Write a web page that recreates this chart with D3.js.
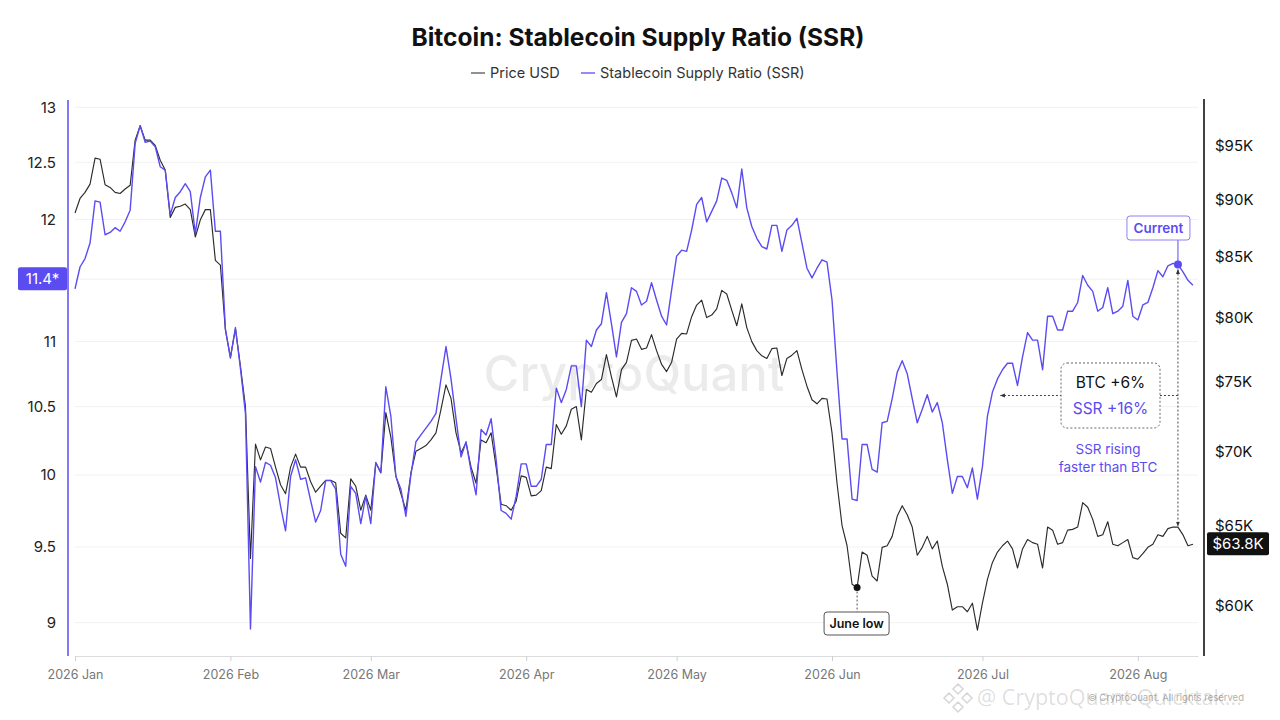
<!DOCTYPE html>
<html>
<head>
<meta charset="utf-8">
<script src="https://cdn.jsdelivr.net/npm/d3@7"></script>
<style>
  body { margin: 0; background: #fff; }
  svg { font-family: Inter, "Noto Sans", sans-serif; }
</style>
</head>
<body>
<svg width="1280" height="720"></svg>
<script>
// daily values, starting 2026-01-01
const startDay = "2026-01-01"

const priceUSD = [
  88.8, 90.1, 90.65, 91.4, 93.8, 93.7, 91.35, 91.1, 90.65, 90.55,
  90.95, 91.3, 95.5, 96.9, 95.5, 95.5, 95.0, 93.6, 92.7, 88.4,
  89.3, 89.4, 89.6, 89.1, 86.7, 88.2, 89.1, 89.1, 84.7, 84.3,
  79.0, 76.9, 79.1, 76.2, 73.2, 62.9, 70.5, 69.4, 70.3, 70.2,
  68.9, 67.7, 67.1, 68.9, 69.8, 68.9, 68.9, 67.9, 67.2, 67.6,
  68.0, 68.0, 67.84, 64.5, 64.2, 68.1, 67.6, 66.0, 67.0, 66.0,
  69.2, 68.5, 72.75, 71.0, 68.3, 67.1, 66.0, 68.5, 70.0, 70.2,
  70.4, 70.8, 71.3, 73.0, 74.8, 73.8, 71.3, 69.9, 70.6, 68.9,
  67.8, 70.8, 70.6, 71.3, 68.9, 66.4, 66.3, 66.0, 66.6, 68.3,
  68.2, 66.95, 67.0, 67.3, 68.9, 68.8, 71.9, 71.2, 71.8, 73.0,
  73.2, 70.8, 74.45, 74.25, 74.9, 75.2, 77.1, 75.4, 73.9, 75.95,
  76.5, 78.2, 78.3, 77.5, 77.6, 78.65, 77.4, 76.35, 75.8, 76.5,
  78.3, 78.75, 78.7, 80.07, 81.0, 81.4, 80.0, 80.2, 80.7, 82.2,
  81.9, 80.6, 79.35, 81.1, 79.2, 78.1, 77.4, 77.0, 76.8, 77.55,
  77.6, 75.5, 76.8, 77.05, 77.4, 75.95, 74.7, 73.7, 73.4, 73.8,
  73.75, 71.3, 67.8, 65.0, 63.7, 61.3, 61.1, 63.3, 63.1, 61.8,
  61.5, 63.6, 63.7, 64.3, 65.6, 66.3, 65.7, 64.9, 63.1, 63.6,
  64.3, 63.5, 64.0, 62.4, 61.3, 59.74, 59.94, 59.94, 59.64, 60.15,
  58.55, 60.15, 61.6, 62.65, 63.3, 63.7, 64.0, 63.5, 62.3, 63.5,
  64.1, 63.9, 63.8, 62.3, 64.9, 64.7, 63.8, 63.9, 64.7, 64.75,
  64.9, 66.5, 66.2, 65.4, 64.3, 64.4, 65.25, 63.8, 63.7, 63.9,
  64.1, 62.95, 62.85, 63.2, 63.6, 63.8, 64.4, 64.3, 64.8, 64.9,
  64.9, 64.4, 63.7, 63.8
]

const ssr = [
  11.42, 11.60, 11.67, 11.80, 12.16, 12.15, 11.87, 11.89, 11.93, 11.90,
  11.98, 12.08, 12.67, 12.83, 12.68, 12.69, 12.64, 12.46, 12.43, 12.04,
  12.19, 12.24, 12.31, 12.24, 11.88, 12.19, 12.37, 12.43, 11.90, 11.90,
  11.10, 10.87, 11.11, 10.79, 10.45, 8.96, 10.06, 9.95, 10.09, 10.07,
  9.98, 9.78, 9.61, 9.99, 10.11, 9.97, 9.98, 9.82, 9.67, 9.75,
  9.96, 9.96, 9.90, 9.45, 9.37, 9.92, 9.87, 9.66, 9.85, 9.66,
  10.09, 10.02, 10.65, 10.43, 9.99, 9.90, 9.71, 10.0, 10.24, 10.29,
  10.34, 10.39, 10.45, 10.71, 10.96, 10.71, 10.41, 10.13, 10.24, 10.03,
  9.86, 10.33, 10.29, 10.41, 10.11, 9.75, 9.73, 9.69, 9.85, 10.08,
  10.08, 9.92, 9.92, 9.97, 10.22, 10.22, 10.64, 10.53, 10.63, 10.81,
  10.81, 10.50, 11.01, 10.96, 11.09, 11.14, 11.39, 11.14, 10.88, 11.15,
  11.22, 11.43, 11.40, 11.29, 11.32, 11.47, 11.33, 11.20, 11.13, 11.41,
  11.69, 11.74, 11.73, 11.91, 12.13, 12.19, 11.98, 12.07, 12.16, 12.36,
  12.34, 12.23, 12.10, 12.44, 12.10, 11.94, 11.84, 11.77, 11.75, 11.95,
  11.95, 11.73, 11.91, 11.95, 12.01, 11.80, 11.59, 11.51, 11.59, 11.66,
  11.64, 11.33, 10.76, 10.26, 10.26, 9.83, 9.82, 10.22, 10.22, 10.04,
  10.02, 10.38, 10.39, 10.56, 10.76, 10.85, 10.75, 10.56, 10.38, 10.48,
  10.59, 10.46, 10.53, 10.38, 10.11, 9.87, 9.99, 9.99, 9.91, 10.05,
  9.83, 10.06, 10.43, 10.61, 10.71, 10.78, 10.83, 10.83, 10.66, 10.88,
  11.07, 11.01, 11.01, 10.78, 11.2, 11.2, 11.09, 11.09, 11.24, 11.24,
  11.31, 11.53, 11.45, 11.40, 11.24, 11.27, 11.43, 11.22, 11.24, 11.28,
  11.49, 11.20, 11.17, 11.29, 11.31, 11.43, 11.57, 11.52, 11.61, 11.63,
  11.62, 11.56, 11.49, 11.45
]

const ssrTicks = [9, 9.5, 10, 10.5, 11, 11.5, 12, 12.5, 13]
const priceTicks = [60, 65, 70, 75, 80, 85, 90, 95]

// annotation indices (days from start)
const juneLowIdx = 156
const currentIdx = 220
const arrowFromIdx = 184

const purple = "#5b4cf2"
const parseDay = d3.timeParse("%Y-%m-%d")
const day0 = parseDay(startDay)
const dates = ssr.map((_, i) => d3.timeDay.offset(day0, i))

const svg = d3.select("svg")

const x = d3.scaleTime()
  .domain([day0, d3.timeDay.offset(day0, 224)])
  .range([75, 1198])

const yS = d3.scaleLog().domain([9, 13]).range([622.7, 107.3])
const yP = d3.scaleLog().domain([60, 95]).range([605.7, 145.4])

// grid
svg.append("g")
  .selectAll("line")
  .data(ssrTicks)
  .enter().append("line")
  .attr("x1", 75).attr("x2", 1198)
  .attr("y1", d => yS(d)).attr("y2", d => yS(d))
  .attr("stroke", "#f1f1f1")

// watermark
svg.append("text")
  .attr("x", 634).attr("y", 391)
  .attr("text-anchor", "middle")
  .attr("font-size", 49)
  .attr("font-weight", 500)
  .attr("fill", "#000").attr("fill-opacity", 0.08)
  .text("CryptoQuant")

// bottom axis
const xAxis = svg.append("g")
  .attr("transform", "translate(0,656)")
  .call(d3.axisBottom(x)
    .tickValues(d3.timeMonth.range(day0, d3.timeDay.offset(day0, 224)))
    .tickFormat(d3.timeFormat("%Y %b"))
    .tickSize(5).tickSizeOuter(0))
xAxis.select(".domain").attr("stroke", "#dcdcdc")
xAxis.selectAll(".tick line").attr("stroke", "#d0d0d0")
xAxis.selectAll(".tick text")
  .attr("font-family", "Inter, sans-serif")
  .attr("font-size", 12.5).attr("fill", "#777").attr("dy", "1.2em")

// left axis (SSR)
svg.append("line")
  .attr("x1", 68).attr("x2", 68).attr("y1", 100).attr("y2", 656)
  .attr("stroke", purple).attr("stroke-width", 1.5)
svg.append("g")
  .selectAll("text")
  .data(ssrTicks.filter(d => d !== 11.5))
  .enter().append("text")
  .attr("x", 56).attr("y", d => yS(d)).attr("dy", "0.35em")
  .attr("text-anchor", "end")
  .attr("font-size", 15).attr("fill", "#222")
  .text(d => d3.format("~g")(d))

// right axis (price)
svg.append("line")
  .attr("x1", 1204).attr("x2", 1204).attr("y1", 99).attr("y2", 656)
  .attr("stroke", "#111").attr("stroke-width", 1.6)
svg.append("g")
  .selectAll("text")
  .data(priceTicks)
  .enter().append("text")
  .attr("x", 1215).attr("y", d => yP(d)).attr("dy", "0.35em")
  .attr("font-size", 15).attr("fill", "#111")
  .text(d => "$" + d + "K")

// lines
const pricePath = d3.line().x((d, i) => x(dates[i])).y(d => yP(d))
const ssrPath = d3.line().x((d, i) => x(dates[i])).y(d => yS(d))

svg.append("path").datum(priceUSD)
  .attr("d", pricePath)
  .attr("fill", "none").attr("stroke", "#2b2b2b").attr("stroke-width", 1.15)
  .attr("stroke-linejoin", "round")

svg.append("path").datum(ssr)
  .attr("d", ssrPath)
  .attr("fill", "none").attr("stroke", purple).attr("stroke-width", 1.4)
  .attr("stroke-linejoin", "round")

// last value badges
const lastI = ssr.length - 1
svg.append("rect")
  .attr("x", 18).attr("y", yS(11.5) - 12).attr("width", 49).attr("height", 23)
  .attr("rx", 2).attr("fill", purple)
svg.append("text")
  .attr("x", 42.5).attr("y", yS(11.5)).attr("dy", "0.35em")
  .attr("text-anchor", "middle").attr("font-size", 15).attr("fill", "#fff")
  .text("11.4*")

const lastPy = yP(priceUSD[lastI])
svg.append("rect")
  .attr("x", 1207).attr("y", lastPy - 12).attr("width", 62).attr("height", 23)
  .attr("rx", 2).attr("fill", "#111")
svg.append("text")
  .attr("x", 1238).attr("y", lastPy).attr("dy", "0.35em")
  .attr("text-anchor", "middle").attr("font-size", 15).attr("fill", "#fff")
  .text("$" + d3.format(".1f")(priceUSD[lastI]) + "K")

// arrow heads
const defs = svg.append("defs")
defs.append("marker")
  .attr("id", "arr")
  .attr("viewBox", "0 0 10 10")
  .attr("refX", 9).attr("refY", 5)
  .attr("markerWidth", 5).attr("markerHeight", 5)
  .attr("orient", "auto-start-reverse")
  .append("path").attr("d", "M0,1 L10,5 L0,9 Z").attr("fill", "#333")

// June low
const jx = x(dates[juneLowIdx]), jy = yP(priceUSD[juneLowIdx])
svg.append("line")
  .attr("x1", jx).attr("x2", jx).attr("y1", jy).attr("y2", 612)
  .attr("stroke", "#555").attr("stroke-dasharray", "2,2")
svg.append("circle").attr("cx", jx).attr("cy", jy).attr("r", 3.5).attr("fill", "#111")
svg.append("rect")
  .attr("x", jx - 33).attr("y", 612).attr("width", 65).attr("height", 23)
  .attr("rx", 3).attr("fill", "#fff").attr("stroke", "#555")
svg.append("text")
  .attr("x", jx - 0.5).attr("y", 623.5).attr("dy", "0.35em")
  .attr("text-anchor", "middle").attr("font-size", 12.5).attr("font-weight", 600)
  .attr("fill", "#111").text("June low")

// Current
const cx = x(dates[currentIdx]), cyS = yS(ssr[currentIdx]), cyP = yP(priceUSD[currentIdx])

svg.append("line")
  .attr("x1", cx).attr("x2", cx).attr("y1", cyS + 5).attr("y2", cyP - 1)
  .attr("stroke", "#444").attr("stroke-dasharray", "2,2")
  .attr("marker-start", "url(#arr)").attr("marker-end", "url(#arr)")

const boxY = 363, boxH = 65
const midY = boxY + boxH / 2
svg.append("line")
  .attr("x1", cx).attr("x2", x(dates[arrowFromIdx]) + 3)
  .attr("y1", midY).attr("y2", midY)
  .attr("stroke", "#444").attr("stroke-dasharray", "2,2")
  .attr("marker-end", "url(#arr)")

svg.append("line")
  .attr("x1", cx).attr("x2", cx).attr("y1", 240).attr("y2", cyS)
  .attr("stroke", purple)
svg.append("circle").attr("cx", cx).attr("cy", cyS).attr("r", 4).attr("fill", purple)
svg.append("rect")
  .attr("x", cx - 51).attr("y", 216).attr("width", 63).attr("height", 24)
  .attr("rx", 3).attr("fill", "#fff").attr("stroke", "#8d82f6")
svg.append("text")
  .attr("x", cx - 19.5).attr("y", 228).attr("dy", "0.35em")
  .attr("text-anchor", "middle").attr("font-size", 13.5).attr("font-weight", 600)
  .attr("fill", purple).text("Current")

// change box
svg.append("rect")
  .attr("x", 1061).attr("y", boxY).attr("width", 99).attr("height", boxH)
  .attr("rx", 6).attr("fill", "#fff")
  .attr("stroke", "#666").attr("stroke-dasharray", "2,2")
svg.append("text")
  .attr("x", 1110.5).attr("y", 383).attr("dy", "0.35em")
  .attr("text-anchor", "middle").attr("font-size", 15.5).attr("fill", "#111")
  .text("BTC +6%")
svg.append("text")
  .attr("x", 1110.5).attr("y", 409).attr("dy", "0.35em")
  .attr("text-anchor", "middle").attr("font-size", 15.5).attr("fill", purple)
  .text("SSR +16%")
svg.append("text")
  .attr("x", 1108).attr("y", 449).attr("dy", "0.35em")
  .attr("text-anchor", "middle").attr("font-size", 13.5).attr("fill", purple)
  .text("SSR rising")
svg.append("text")
  .attr("x", 1108).attr("y", 467).attr("dy", "0.35em")
  .attr("text-anchor", "middle").attr("font-size", 13.5).attr("fill", purple)
  .text("faster than BTC")

// title + legend
svg.append("text")
  .attr("x", 638).attr("y", 46)
  .attr("text-anchor", "middle").attr("font-size", 24.5).attr("font-weight", 700)
  .attr("fill", "#111").text("Bitcoin: Stablecoin Supply Ratio (SSR)")

const legend = [
  { label: "Price USD", color: "#555", x: 471 },
  { label: "Stablecoin Supply Ratio (SSR)", color: purple, x: 581 }
]
const lg = svg.append("g").selectAll("g").data(legend).enter().append("g")
lg.append("line")
  .attr("x1", d => d.x).attr("x2", d => d.x + 14)
  .attr("y1", 73).attr("y2", 73)
  .attr("stroke", d => d.color).attr("stroke-width", 1.3)
lg.append("text")
  .attr("x", d => d.x + 19).attr("y", 73).attr("dy", "0.35em")
  .attr("font-size", 14.5).attr("fill", "#333")
  .text(d => d.label)

// footer watermark
const wm = svg.append("g").attr("fill", "#000").attr("fill-opacity", 0.15)
wm.append("path")
  .attr("d", "M958,684 l5,5 -5,5 -5,-5 z M949,693 l5,5 -5,5 -5,-5 z M967,693 l5,5 -5,5 -5,-5 z M958,702 l5,5 -5,5 -5,-5 z")
  .attr("fill", "none").attr("stroke", "#000").attr("stroke-opacity", 0.16).attr("stroke-width", 1.5)
wm.append("text")
  .attr("x", 977).attr("y", 705)
  .attr("font-size", 21.5).attr("font-family", "'Open Sans', sans-serif")
  .text("@ CryptoQuant Quicktak...")
svg.append("text")
  .attr("x", 1088).attr("y", 701)
  .attr("font-size", 9.5).attr("fill", "#666").attr("fill-opacity", 0.55)
  .text("© CryptoQuant. All rights reserved")
</script>
</body>
</html>
